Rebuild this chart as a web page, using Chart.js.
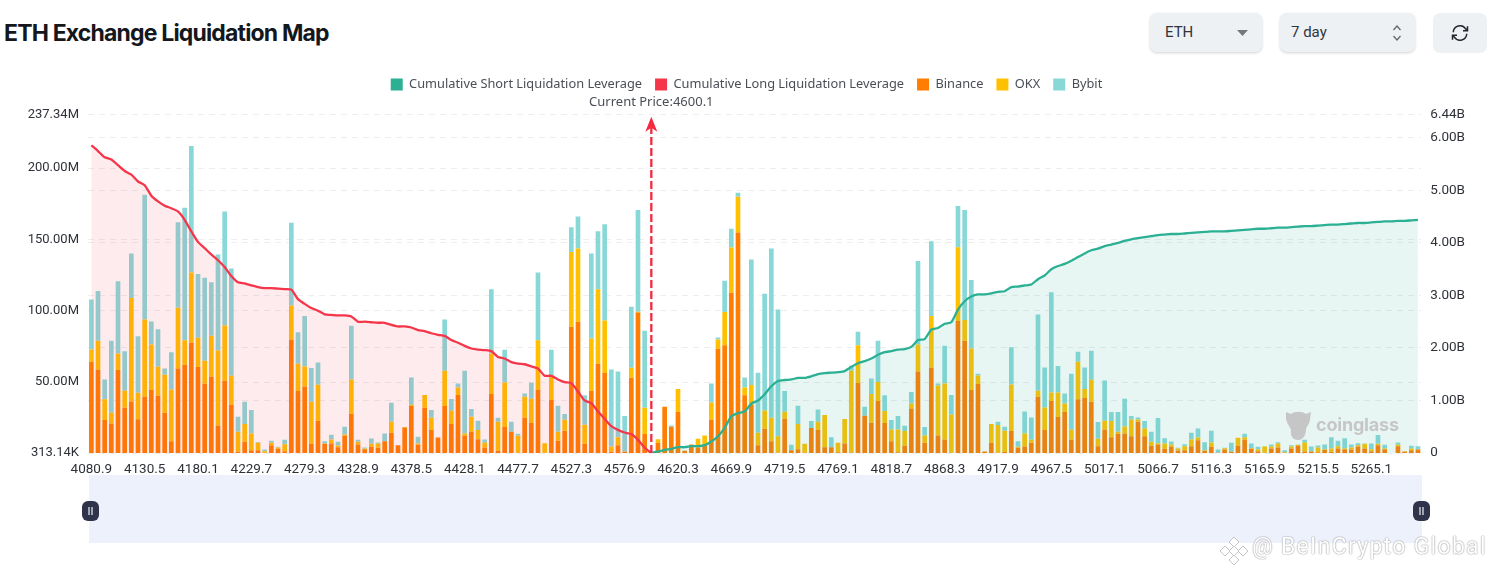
<!DOCTYPE html>
<html><head><meta charset="utf-8">
<script src="https://cdn.jsdelivr.net/npm/chart.js@4/dist/chart.umd.js"></script>
<style>
html,body{margin:0;padding:0;background:#fff;width:1493px;height:575px;overflow:hidden}
body{position:relative;font-family:Roboto,sans-serif}
#wrap{position:absolute;left:0;top:0;width:1493px;height:575px}
h1{position:absolute;left:4px;top:18px;margin:0;font:700 23px/30px Inter,sans-serif;letter-spacing:-.83px;color:#14171c;white-space:nowrap}
.ctl{position:absolute;top:13px;height:39px;background:#eef1f4;border-radius:7px;box-shadow:0 1px 3px rgba(0,0,0,.18);font:15px/39px Roboto,sans-serif;color:#30353c}
.ctl span{position:absolute;top:0}
.slider{position:absolute;left:89px;top:475px;width:1333px;height:68px;background:#edf1fc}
.hd{position:absolute;top:501px;width:16.5px;height:20px;border-radius:6px;background:#30344a}
.hd:before,.hd:after{content:"";position:absolute;top:6px;height:8px;width:1.5px;background:#a2a5b2}
.hd:before{left:6px}.hd:after{left:9px}
#cg{position:absolute;left:1316px;top:414px;font:700 18px/22px Inter,sans-serif;color:#c6c6c6;letter-spacing:-.2px;z-index:3}
#bc{position:absolute;left:1252px;top:532px;font:23px/30px Roboto,sans-serif;letter-spacing:1.3px;color:#fff;text-shadow:0 0 1.5px #888,0 0 1px #aaa;white-space:nowrap;z-index:3}
svg.abs{position:absolute;z-index:3}
canvas{position:absolute;left:0;top:0;z-index:2}
</style></head><body>
<div id="wrap">
<h1>ETH Exchange Liquidation Map</h1>
<div class="ctl" style="left:1150px;width:112px"><span style="left:15px">ETH</span>
<svg class="abs" style="left:87px;top:17px" width="11" height="6"><path d="M0 0H11L5.5 6Z" fill="#777"/></svg></div>
<div class="ctl" style="left:1280px;width:135px"><span style="left:11px">7 day</span>
<svg class="abs" style="left:111px;top:11px" width="12" height="18"><path d="M2.5 6L6 2L9.500 6M2.500 12L6 16L9.500 12" fill="none" stroke="#666" stroke-width="1.300"/></svg></div>
<div class="ctl" style="left:1433px;width:54px;height:40px;box-shadow:none">
<svg class="abs" style="left:18px;top:11px" width="18" height="18" viewBox="0 0 24 24"><path d="M3 11A9 9 0 0 1 19.500 6.500L22 9M21 13A9 9 0 0 1 4.500 17.500L2 15M22 3V9H16M2 21V15H8" fill="none" stroke="#23272d" stroke-width="2"/></svg></div>
<div class="slider"></div><div class="hd" style="left:82px"></div><div class="hd" style="left:1413px"></div>
<svg class="abs" style="left:1285px;top:409px" width="27" height="32" viewBox="0 0 27 32"><path d="M1 3L6 5C10 2 17 2 21 5L26 3L25 10C25 14 22 17 21 20C21 25 19 31 13 31C8 31 5 27 6 21C4 16 1 13 1 9Z" fill="#c6c6c6"/></svg>
<div id="cg">coinglass</div>
<svg class="abs" style="left:1219px;top:536px" width="30" height="30" viewBox="0 0 30 30"><path d="M15 1L20 6L15 11L10 6ZM6 10L11 15L6 20L1 15ZM24 10L29 15L24 20L19 15ZM15 10L20 15L15 20L10 15ZM15 19L20 24L15 29L10 24Z" fill="#fff" stroke="#c4c4c4" stroke-width="1"/></svg>
<div id="bc">@ BeInCrypto Global</div>
<canvas id="c" width="1493" height="575"></canvas>
</div>
<script>
const tickLabels=["4080.9","4130.5","4180.1","4229.7","4279.3","4328.9","4378.5","4428.1","4477.7","4527.3","4576.9","4620.3","4669.9","4719.5","4769.1","4818.7","4868.3","4917.9","4967.5","5017.1","5066.7","5116.3","5165.9","5215.5","5265.1"];
const leftTickValues=[0.31314,50,100,150,200,237.34];
const leftTickLabels=["313.14K","50.00M","100.00M","150.00M","200.00M","237.34M"];
const rightTickValues=[0,1,2,3,4,5,6,6.44];
const rightTickLabels=["0","1.00B","2.00B","3.00B","4.00B","5.00B","6.00B","6.44B"];
const currentPriceIndex=84;
const currentPriceText="Current Price:4600.1";
const binance=[64.3,58.9,23.4,21,58.4,32,36.4,24,39.7,44.4,
40.4,28.5,8.6,59.6,62.1,77.6,60.5,48.8,53.7,19.6,
50.9,34.1,1.2,8.2,2.3,2.3,.5,5.8,3.3,1.6,
79.9,43.7,47,6.8,22.9,6.8,7,4.4,12.4,27.8,
6.3,3,4.7,4,8.6,14.5,5.8,18.2,33.2,6.1,
32,16.4,11.2,33.2,20.6,40.9,12.4,15.2,10,4.2,
41.6,1.9,18.5,15.2,.5,25,21.3,44.4,.5,37.4,
8.9,15.9,88.8,92.3,6.8,43.9,62.9,56.3,1.2,5.8,
1.2,53,98.8,13.6,0,7.5,32.7,18.7,29.2,1.9,
6.3,4.2,5.8,23.6,73.4,75.9,112.6,154.9,40.7,33.9,
5.8,17.3,8.6,.5,24.3,2.3,3,.5,17.8,16.4,
4.4,4.4,.9,7,.5,49.3,26.4,21.5,36.7,21.3,
8.6,.9,5.4,31.5,57.5,7.5,60,12.6,9.8,.5,
92.8,79,44.4,48.6,1.4,7.5,.5,1,15.7,4,
4.9,7.5,39.7,16.4,36.7,25.5,29,9.6,37.9,38.8,
36.2,5.1,16.8,11.4,13.8,14,12.1,22.2,12.1,5.4,
6.3,3.3,4.7,2.1,2.3,5.1,9.3,1.9,4.7,.5,
2.8,1.2,5.4,9.6,3.3,1.6,.5,3.5,4.2,.7,
3.5,5.4,1.4,1.4,.9,2.6,1.2,3.5,3,2.8,
4.9,3.5,1.6,5.8,3,.2,5.1,1.2,2.3,2.8];
const okx=[8.6,20,14.5,7.5,11.7,12,72.5,18.5,54.2,32,
20.3,26.6,36.3,42.5,17.3,49.3,20.6,16.2,28.8,52.6,
38.8,20.3,14,12.4,11.7,5.2,1.1,1.7,.9,4.9,
23.8,19.2,14,29.4,25.2,.2,2.8,1.2,.9,24.1,
1.9,.5,2.1,3,0,7.7,0,.3,.9,.9,
8.9,8.6,0,24.7,9.3,5.4,1.6,10.5,6.4,3.3,
28.5,20.3,31.3,0,11.9,14.7,17,35,6.7,17.5,
6.3,7.7,52.3,51.4,13.3,36.7,52.1,36.9,3.7,5.6,
0,7,.5,18.4,0,2.5,0,0,15.9,0,
0,6.1,6.8,12.1,6.5,23.2,31.8,25,5.6,14,
8.7,12.8,16.4,11.6,4.9,0,17.6,6.3,0,5.8,
22.5,0,6.6,17.1,57.4,26.6,0,20.1,13.3,8.4,
8.2,15.9,10.3,3.5,18.9,5.1,36.3,35.1,39.2,26.8,
51.8,14.5,29.2,6.1,0,13.1,19.4,14.9,32.7,.7,
9.1,2.1,4.2,15.8,6.1,17.3,6,7,26.4,6.3,
15.4,5.2,6.1,11.3,1.4,4.9,11.7,1.6,5.4,2.8,
.9,3.7,1.6,1.4,2.8,4.7,1.9,.4,3,0,
.9,0,5.6,1.8,.4,1.4,4.4,1.4,2.8,.2,
1.4,.7,6.3,.2,3.3,.4,2.3,1.6,.5,1.4,
.9,3.3,1.4,1,.5,0,1,.4,1.2,0];
const bybit=[35,35,14,50.5,50.5,27.6,31.3,39.7,87.4,16.1,
26.4,4.5,26.1,60,92.8,88.5,44.6,58.1,37.4,67.3,
79.9,75.3,10.5,15.6,16.4,.5,1.2,1.4,.5,3.1,
58,22.1,35.3,23.6,15.7,1.6,3.3,2.6,5.4,37.6,
1.4,.7,3.7,.7,5.4,13.3,0,0,19.2,4.7,
0,5.4,0,36,8.2,2.8,43.9,5.4,6.5,2.3,
44.9,2.8,22.9,7,1.4,2.4,11.2,47.5,0,17.8,
18.2,4,17.5,22.4,20.6,59.6,40.8,67.5,54,46.1,
25,42.8,71.3,54,0,0,0,.9,0,0,
0,0,0,13.3,1.4,21.9,13.1,2.8,7,88,
42,81.8,118.7,88.8,14.5,3.8,12.8,0,4.9,8.6,
0,7,0,0,3.8,9.4,6.3,11,29,11,
6.6,9.5,3.7,8,58.4,5.9,52.5,1.3,26.5,13.6,
28.8,77.1,47.9,1.1,0,0,2.3,2.8,26.1,3.9,
15.4,15.6,53.5,28.1,70.1,18.4,7.1,39.2,7,15.2,
20.4,11.7,28.3,6.3,13.8,19.4,2.4,1.4,5.2,7,
17.6,3.7,2.1,.5,1.4,4.7,6.3,5.6,8.2,2.3,
.3,6.3,0,2.4,3.3,1.7,.2,1.4,.9,1.4,
.9,.2,1.9,3.3,1.4,3.3,7.9,3.8,7.2,2.1,
1.4,.2,4,6.1,2.6,.1,1.6,0,1.9,2.3];
const longLine=[5.86,5.75,5.63,5.59,5.48,5.37,5.30,5.17,5.10,4.90,
4.79,4.71,4.66,4.60,4.44,4.22,4.02,3.90,3.78,3.67,
3.54,3.37,3.25,3.23,3.19,3.16,3.14,3.14,3.13,3.12,
3.11,2.93,2.84,2.76,2.71,2.64,2.63,2.62,2.62,2.60,
2.50,2.50,2.49,2.48,2.48,2.44,2.41,2.41,2.39,2.34,
2.32,2.28,2.25,2.23,2.15,2.10,2.04,1.99,1.97,1.96,
1.94,1.83,1.80,1.73,1.70,1.69,1.65,1.61,1.47,1.47,
1.40,1.35,1.33,1.17,1.00,.95,.79,.65,.51,.44,
.39,.36,.25,.10,0];
const shortLine=[0,.03,.06,.08,.11,.11,.13,.13,.15,.22,
.32,.48,.70,.76,.79,.94,1.00,1.12,1.27,1.37,
1.39,1.40,1.43,1.43,1.46,1.50,1.52,1.53,1.54,1.56,
1.64,1.71,1.75,1.80,1.87,1.92,1.94,1.97,1.98,2.02,
2.15,2.17,2.35,2.38,2.46,2.49,2.73,2.89,2.98,3.02,
3.02,3.04,3.07,3.08,3.16,3.17,3.19,3.21,3.31,3.38,
3.50,3.56,3.60,3.66,3.73,3.80,3.86,3.89,3.94,3.97,
4.00,4.04,4.07,4.09,4.11,4.13,4.15,4.16,4.17,4.17,
4.18,4.19,4.20,4.21,4.22,4.22,4.22,4.23,4.24,4.25,
4.26,4.27,4.27,4.28,4.29,4.29,4.30,4.31,4.32,4.32,
4.33,4.34,4.35,4.35,4.36,4.37,4.38,4.38,4.39,4.40,
4.41,4.41,4.42,4.42,4.43,4.44];

const categories=binance.map((_,i)=>i%8===0&&tickLabels[i/8]?tickLabels[i/8]:"");
const shortSeries=new Array(currentPriceIndex).fill(null).concat(shortLine);
const axisFont={family:"Roboto",size:13.5};
const leftFont={family:"Roboto",size:13};
const legendColors=["#2bb094","#f5364a","#ff7d00","#ffc000","#89d8d8"];
const LEGEND_EXTRA=14;

const pricePlugin={id:"price",
 beforeLayout(chart){
  const lg=chart.legend;
  if(lg&&!lg._pinned){const f=lg.fit;lg.fit=function(){f.call(this);this.height+=LEGEND_EXTRA;};lg._pinned=true;}
 },
 afterDatasetsDraw(chart){
  const c=chart.ctx,x=chart.scales.x.getPixelForValue(currentPriceIndex),a=chart.chartArea;
  c.save();
  c.strokeStyle="#f5293f";c.lineWidth=2.3;c.setLineDash([8,3]);
  c.beginPath();c.moveTo(x,a.bottom);c.lineTo(x,a.top+13);c.stroke();c.setLineDash([]);
  c.fillStyle="#f5293f";c.beginPath();
  c.moveTo(x,a.top+2);c.lineTo(x+6,a.top+17);c.lineTo(x,a.top+13);c.lineTo(x-6,a.top+17);c.closePath();c.fill();
  c.fillStyle="#4a4e55";c.font='13px "Noto Sans",sans-serif';c.textAlign="center";c.textBaseline="middle";
  c.fillText(currentPriceText,x,a.top-13);
  c.restore();
 }};
const mkTicks=(vals)=>function(s){s.ticks=vals.map(v=>({value:v}));};
new Chart(document.getElementById("c"),{
 type:"bar",
 plugins:[pricePlugin],
 data:{labels:categories,datasets:[
  {type:"line",label:"Cumulative Short Liquidation Leverage",data:shortSeries,yAxisID:"y2",borderColor:"#2bb094",backgroundColor:"rgba(43,176,148,.11)",borderWidth:2.3,pointRadius:0,tension:.2,fill:"origin",order:0},
  {type:"line",label:"Cumulative Long Liquidation Leverage",data:longLine,yAxisID:"y2",borderColor:"#f5364a",backgroundColor:"rgba(245,54,74,.1)",borderWidth:2.3,pointRadius:0,tension:.2,fill:"origin",order:0},
  {label:"Binance",data:binance,backgroundColor:"#ff7d00",yAxisID:"y",stack:"s",order:1},
  {label:"OKX",data:okx,backgroundColor:"#ffc000",yAxisID:"y",stack:"s",order:1},
  {label:"Bybit",data:bybit,backgroundColor:"#89d8d8",yAxisID:"y",stack:"s",order:1}
 ]},
 options:{responsive:false,animation:false,
  layout:{padding:{top:65,bottom:98,left:0,right:0}},
  datasets:{bar:{barPercentage:.7,categoryPercentage:1}},
  plugins:{tooltip:{enabled:false},
   legend:{position:"top",align:"center",labels:{font:{family:'"Noto Sans"',size:12.8},color:"#4a4e55",boxWidth:12,boxHeight:12,padding:13,
    generateLabels:(ch)=>ch.data.datasets.map((d,i)=>({text:d.label,fillStyle:legendColors[i],strokeStyle:legendColors[i],lineWidth:0,datasetIndex:i,fontColor:"#4a4e55"}))}}},
  scales:{
   x:{stacked:true,grid:{display:false},border:{display:false},
    afterFit(s){s.height=24;},
    ticks:{autoSkip:false,maxRotation:0,minRotation:0,padding:1,font:axisFont,color:"#2e3238",callback(v,i){return categories[i];}}},
   y:{stacked:true,position:"left",min:leftTickValues[0],max:leftTickValues[5],
    afterBuildTicks:mkTicks(leftTickValues),afterFit(s){s.width=88;},
    border:{display:false,dash:[6,5]},grid:{color:"#eeeeee",drawTicks:false,lineWidth:1},
    ticks:{padding:9,font:leftFont,color:"#2e3238",callback(v){return leftTickLabels[leftTickValues.indexOf(v)];}}},
   y2:{position:"right",min:0,max:rightTickValues[7],
    afterBuildTicks:mkTicks(rightTickValues),afterFit(s){s.width=71.7;},
    border:{display:false,dash:[6,5]},grid:{color:"#eeeeee",drawTicks:false,lineWidth:1},
    ticks:{padding:9,font:axisFont,color:"#2e3238",callback(v){return rightTickLabels[rightTickValues.indexOf(v)];}}}
  }
 }
});
</script>
</body></html>
